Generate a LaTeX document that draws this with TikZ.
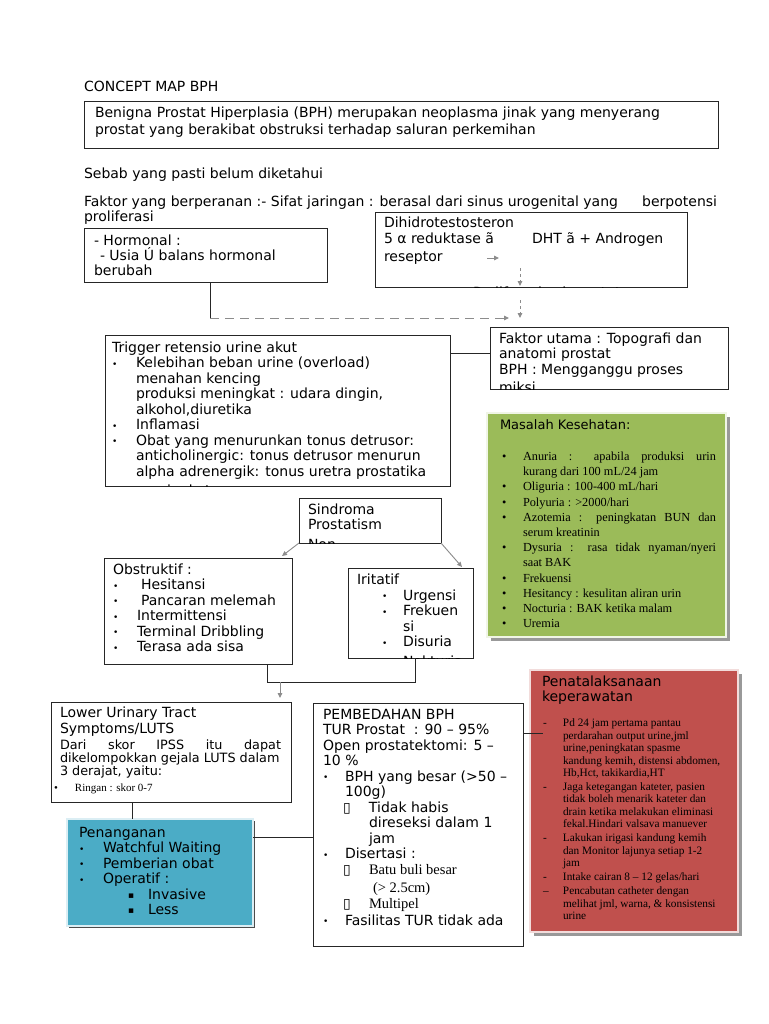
\documentclass[tikz,border=0pt]{standalone}
\usepackage{fontspec}
\setmainfont{DejaVu Sans}
\newfontfamily\serif{Liberation Serif}
\usetikzlibrary{fit,arrows.meta}
\definecolor{mgreen}{HTML}{9BBB59}
\definecolor{mteal}{HTML}{4BACC6}
\definecolor{mred}{HTML}{C0504D}
\newcommand\fs[2]{\fontsize{#1}{#2}\selectfont}
\newcommand\myitm[2]{\makebox[#1][l]{#2}}
\newcommand\myind[1]{\hspace*{#1}}
\newcommand\smb{\raisebox{0.5pt}{\fs{9}{9}•}}
\newcommand\sqb{\raisebox{1pt}{\fs{9}{9}▪}}
\newcommand\mylines[4]{\parbox[t]{#1}{\fs{#2}{#3}\raggedright #4}}
\tikzset{
  T/.style={inner sep=0,outer sep=0,anchor=base west},
  bx/.style={draw=black!85,line width=0.9pt,inner sep=0,outer sep=0,rectangle},
  ln/.style={draw=black!85,line width=0.9pt},
  gln/.style={draw=black!45,line width=0.9pt},
  dln/.style={draw=black!45,line width=0.9pt,dash pattern=on 9pt off 6pt},
  tip/.style={-{Triangle[length=5pt,width=4.5pt]}},
}
\begin{document}
\begin{tikzpicture}[x=1pt,y=-1pt]
\fill[white] (0,0) rectangle (768,1024);
\useasboundingbox (0,0) rectangle (768,1024);

% ---------- header ----------
\node[T] (title) at (84,92) {\fs{14}{16}CONCEPT MAP BPH};
\node[bx,fit={(84,101)(718,148)}] (intro) {};
\node[T] (introtxt) at (95,118) {\mylines{620pt}{14}{17}{Benigna Prostat Hiperplasia (BPH) merupakan neoplasma jinak yang menyerang\\prostat yang berakibat obstruksi terhadap saluran perkemihan}};
\node[T] (sebab) at (84,179) {\fs{14}{16}Sebab yang pasti belum diketahui};
\node[T] (faktor) at (84,207) {\mylines{640pt}{14}{15}{\makebox[633pt][l]{Faktor yang berperanan :- Sifat jaringan : berasal dari sinus urogenital yang\hfill berpotensi}\\proliferasi}};

% ---------- hormonal ----------
\node[bx,fit={(84,228)(327,282)}] (horm) {};
\node[T] (hormtxt) at (94,245) {\mylines{230pt}{14}{15}{- Hormonal :\\\myind{6pt}- Usia Ú balans hormonal\\berubah}};

% ---------- DHT ----------
\node[bx,fit={(375,212)(687,287)}] (dht) {};
\begin{scope}
\clip (dht.south west) rectangle (dht.north east);
\node[T] (dhttxt) at (384,227) {\mylines{300pt}{14}{17}{Dihidrotestosteron\\\makebox[148pt][l]{5 α reduktase ã}DHT ã + Androgen\\reseptor}};
\node[T] (prolif) at (473,297.5) {\fs{14}{16}Proliferasi sel prostat};
\end{scope}
\coordinate (a1) at (487,258);
\coordinate (a2) at (499,258);
\draw[gln,tip] (a1) -- (a2);
\coordinate (a3) at (520,268);
\coordinate (a4) at (520,286);
\draw[dln,dash pattern=on 3pt off 3pt,tip] (a3) -- (a4);

% ---------- connectors from hormonal ----------
\coordinate (h1) at (210,318);
\coordinate (h2) at (509,318);
\draw[ln] (horm.south -| h1) -- (h1);
\draw[dln,tip] (h1) -- (h2);
\coordinate (v1) at (520,300);
\coordinate (v2) at (520,318);
\draw[dln,dash pattern=on 3pt off 3pt,tip] (v1) -- (v2);

% ---------- trigger ----------
\node[bx,fit={(105,335)(450,486)}] (trig) {};
\begin{scope}
\clip (trig.south west) rectangle (trig.north east);
\node[T] (trigtxt) at (112,352) {\mylines{340pt}{14}{15.5}{Trigger retensio urine akut\\
\myitm{24pt}{\smb}Kelebihan beban urine (overload)\\
\myind{24pt}menahan kencing\\
\myind{24pt}produksi meningkat : udara dingin,\\
\myind{24pt}alkohol,diuretika\\
\myitm{24pt}{\smb}Inflamasi\\
\myitm{24pt}{\smb}Obat yang menurunkan tonus detrusor:\\
\myind{24pt}anticholinergic: tonus detrusor menurun\\
\myind{24pt}alpha adrenergik: tonus uretra prostatika}};
\node[T] (trigcut) at (136,495.5) {\fs{14}{16}meningkat};
\end{scope}

% ---------- faktor utama ----------
\node[bx,fit={(490,327)(728,389)}] (fakt) {};
\begin{scope}
\clip (fakt.south west) rectangle (fakt.north east);
\node[T] (fakttxt) at (499,343) {\mylines{230pt}{14}{15.5}{Faktor utama : Topografi dan\\anatomi prostat\\BPH : Mengganggu proses}};
\node[T] (faktcut) at (499,392.5) {\fs{14}{16}miksi};
\end{scope}
\coordinate (y353) at (0,353);
\draw[ln] (trig.east |- y353) -- (fakt.west |- y353);

% ---------- masalah kesehatan ----------
\fill[black!40] (491,417) rectangle (730,641);
\node[fill=mgreen,draw=white!85!mgreen,line width=1.2pt,inner sep=0,outer sep=0,fit={(487,413)(726,637)}] (masa) {};
\node[T] (masahead) at (500,429.5) {\fs{13}{15}Masalah Kesehatan:};
\node[T] (masatxt) at (502,460.5) {\serif\mylines{220pt}{12.3}{15.2}{%
\myitm{21pt}{•}\makebox[193pt][s]{Anuria : apabila produksi urin}\\
\myind{21pt}kurang dari 100 mL/24 jam\\
\myitm{21pt}{•}Oliguria : 100-400 mL/hari\\
\myitm{21pt}{•}Polyuria : >2000/hari\\
\myitm{21pt}{•}\makebox[193pt][s]{Azotemia : peningkatan BUN dan}\\
\myind{21pt}serum kreatinin\\
\myitm{21pt}{•}\makebox[193pt][s]{Dysuria : rasa tidak nyaman/nyeri}\\
\myind{21pt}saat BAK\\
\myitm{21pt}{•}Frekuensi\\
\myitm{21pt}{•}Hesitancy : kesulitan aliran urin\\
\myitm{21pt}{•}Nocturia : BAK ketika malam\\
\myitm{21pt}{•}Uremia}};

% ---------- sindroma ----------
\node[bx,fit={(299,498)(441,543)}] (sind) {};
\begin{scope}
\clip (sind.south west) rectangle (sind.north east);
\node[T] (sindtxt) at (308,514.5) {\mylines{130pt}{14}{15}{Sindroma\\Prostatism}};
\node[T] (sindcut) at (308,549) {\fs{14}{16}Non};
\end{scope}

% ---------- obstruktif ----------
\node[bx,fit={(104,558)(292,664)}] (obs) {};
\node[T] (obstxt) at (113,574.5) {\mylines{180pt}{14}{15.4}{Obstruktif :\\
\myitm{28pt}{\smb}Hesitansi\\
\myitm{28pt}{\smb}Pancaran melemah\\
\myitm{24pt}{\smb}Intermittensi\\
\myitm{24pt}{\smb}Terminal Dribbling\\
\myitm{24pt}{\smb}Terasa ada sisa}};

% ---------- iritatif ----------
\node[bx,fit={(348,568)(473,658)}] (irit) {};
\begin{scope}
\clip (irit.south west) rectangle (irit.north east);
\node[T] (irittxt) at (357,584.5) {\mylines{120pt}{14}{15.6}{Iritatif\\
\myind{25pt}\myitm{21pt}{\smb}Urgensi\\
\myind{25pt}\myitm{21pt}{\smb}Frekuen\\
\myind{46pt}si\\
\myind{25pt}\myitm{21pt}{\smb}Disuria}};
\node[T] (iritcut) at (382,666) {\fs{14}{16}\myitm{21pt}{\smb}Nokturia};
\end{scope}

\coordinate (s1) at (282,556);
\coordinate (s2) at (462,567);
\draw[gln,tip] (sind.south west) -- (s1);
\draw[gln,tip] (sind.south east) -- (s2);

\coordinate (jl) at (267,682);
\coordinate (jr) at (415,682);
\coordinate (jm) at (280,682);
\draw[ln] (obs.south -| jl) -- (jl) -- (jr) -- (irit.south -| jr);

% ---------- LUTS ----------
\node[bx,fit={(51,702)(291,802)}] (luts) {};
\draw[gln,tip,shorten >=4pt] (jm) -- (luts.north -| jm);
\node[T] (lutshead) at (60,717.5) {\mylines{230pt}{14}{16}{Lower Urinary Tract\\Symptoms/LUTS}};
\node[T] (lutstxt) at (60,749.5) {\mylines{230pt}{12.8}{13}{\makebox[221pt][s]{Dari skor IPSS itu dapat}\\dikelompokkan gejala LUTS dalam\\3 derajat, yaitu:}};
\node[T] (lutsb) at (54,791.5) {\serif\fs{11}{13}\myitm{21pt}{•}Ringan : skor 0-7};

% ---------- penanganan ----------
\fill[black!70] (69,821) rectangle (255,928);
\node[fill=mteal,draw=white!80!mteal,line width=2.4pt,inner sep=0,outer sep=0,fit={(67,819)(253,926)}] (pen) {};
\node[T] (pentxt) at (79,837) {\mylines{180pt}{14}{15.5}{Penanganan\\
\myitm{24pt}{\smb}Watchful Waiting\\
\myitm{24pt}{\smb}Pemberian obat\\
\myitm{24pt}{\smb}Operatif :\\
\myind{49pt}\myitm{20pt}{\sqb}Invasive\\
\myind{49pt}\myitm{20pt}{\sqb}Less}};
\coordinate (lp) at (132,0);
\draw[ln] (luts.south -| lp) -- (pen.north -| lp);

% ---------- pembedahan ----------
\node[bx,fit={(313,703)(523,946)}] (pemb) {};
\node[T] (pembtxt) at (323,719) {\mylines{200pt}{14}{15.5}{PEMBEDAHAN BPH\\
TUR Prostat\ \ : 90 – 95\%\\
Open prostatektomi: 5 –\\
10 \%\\
\myitm{22pt}{\smb}BPH yang besar (>50 –\\
\myind{22pt}100g)\\
\myind{20pt}\myitm{26pt}{▯}Tidak habis\\
\myind{46pt}direseksi dalam 1\\
\myind{46pt}jam\\
\myitm{22pt}{\smb}Disertasi :}};
\node[T] (pembs1) at (343,874.5) {\myitm{26pt}{\fs{14}{16}▯}\serif\fs{14.5}{16}Batu buli besar};
\node[T] (pembs2) at (373,892) {\serif\fs{14.5}{16}(> 2.5cm)};
\node[T] (pembs3) at (343,908.5) {\myitm{26pt}{\fs{14}{16}▯}\serif\fs{14.5}{16}Multipel};
\node[T] (pembs4) at (323,925) {\fs{14}{16}\myitm{22pt}{\smb}Fasilitas TUR tidak ada};
\coordinate (pp) at (0,837);
\draw[ln] (pen.east |- pp) -- (pemb.west |- pp);

% ---------- penatalaksanaan ----------
\fill[black!40] (534,674) rectangle (742,936);
\node[fill=mred,draw=white!80!mred,line width=1.6pt,inner sep=0,outer sep=0,fit={(530,670)(738,932)}] (pena) {};
\node[T] (penahead) at (542,686.5) {\mylines{190pt}{14}{15}{Penatalaksanaan\\keperawatan}};
\node[T] (pena1) at (543,726.5) {\serif\fs{11.3}{12.6}\myitm{20pt}{-}\mylines{175pt}{11.3}{12.6}{Pd 24 jam pertama pantau\\perdarahan output urine,jml\\urine,peningkatan spasme\\kandung kemih, distensi abdomen,\\Hb,Hct, takikardia,HT}};
\node[T] (pena2) at (543,790) {\serif\fs{11.3}{12.6}\myitm{20pt}{-}\mylines{175pt}{11.3}{12.6}{Jaga ketegangan kateter, pasien\\tidak boleh menarik kateter dan\\drain ketika melakukan eliminasi\\fekal.Hindari valsava manuever}};
\node[T] (pena3) at (543,841.5) {\serif\fs{11.3}{12.6}\myitm{20pt}{-}\mylines{175pt}{11.3}{12.6}{Lakukan irigasi kandung kemih\\dan Monitor lajunya setiap 1-2\\jam}};
\node[T] (pena4) at (543,880) {\serif\fs{11.3}{12.6}\myitm{20pt}{-}Intake cairan 8 – 12 gelas/hari};
\node[T] (pena5) at (543,894.5) {\serif\fs{11.3}{12.6}\myitm{20pt}{–}\mylines{175pt}{11.3}{12.6}{Pencabutan catheter dengan\\melihat jml, warna, \& konsistensi\\urine}};
\coordinate (pq) at (543,733);
\draw[ln] (pemb.east |- pq) -- (pq);
\end{tikzpicture}
\end{document}
